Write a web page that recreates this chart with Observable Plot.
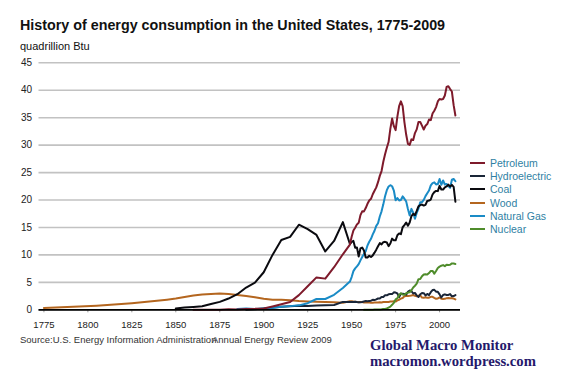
<!DOCTYPE html>
<html><head><meta charset="utf-8">
<script src="https://cdn.jsdelivr.net/npm/d3@7"></script>
<script src="https://cdn.jsdelivr.net/npm/@observablehq/plot@0.6"></script>
<style>
body{margin:0;background:#fff;}
#wrap{position:relative;width:574px;height:390px;overflow:hidden;background:#fff;font-family:"Liberation Sans",Arial,sans-serif;}
.t{position:absolute;white-space:nowrap;line-height:1;}
</style></head><body><div id="wrap"></div>
<script>
const titleText = "History of energy consumption in the United States, 1775-2009";
const unitText = "quadrillion Btu";
const sourceA = "Source:U.S. Energy Information Administration";
const sourceB = "Annual Energy Review 2009";
const mark1 = "Global Macro Monitor";
const mark2 = "macromon.wordpress.com";

const seriesNames = ["Petroleum","Hydroelectric","Coal","Wood","Natural Gas","Nuclear"];
const seriesColors = ["#7e1a2b","#1a2638","#0a0a0f","#b4661f","#1a8bc6","#4f8c2b"];
const drawOrder = ["Wood","Hydroelectric","Nuclear","Natural Gas","Coal","Petroleum"];

const yTicks = [0,5,10,15,20,25,30,35,40,45];
const xTicks = [1775,1800,1825,1850,1875,1900,1925,1950,1975,2000];

// years sampled before 1949 (EIA selected years)
const earlyYears = [1775,1785,1795,1805,1815,1825,1835,1845,1850,1855,1860,1865,1870,1875,1880,1885,1890,1895,1900,1905,1910,1915,1920,1925,1930,1935,1940,1945];
const annualYears = d3.range(1949, 2010);

const woodEarly = [0.35,0.45,0.58,0.74,0.95,1.2,1.5,1.85,2.05,2.35,2.6,2.78,2.9,2.95,2.88,2.7,2.5,2.3,2.02,1.85,1.84,1.74,1.6,1.53,1.46,1.4,1.36,1.27];
const coalEarly = [null,null,null,null,null,null,null,null,0.22,0.42,0.52,0.63,1.05,1.44,2.05,2.84,4.06,4.95,6.84,10.0,12.71,13.29,15.5,14.71,13.64,10.63,12.54,15.97];
const petroleumEarly = [null,null,null,null,null,null,null,null,null,null,0.01,0.02,0.01,0.02,0.1,0.04,0.16,0.17,0.23,0.61,1.01,1.42,2.68,4.28,5.9,5.68,7.76,10.11];
const gasEarly = [null,null,null,null,null,null,null,null,null,null,null,null,null,null,null,0.14,0.26,0.15,0.25,0.37,0.54,0.67,0.81,1.21,1.97,1.97,2.73,3.97];
const hydroEarly = [null,null,null,null,null,null,null,null,null,null,null,null,null,null,null,null,0.02,0.09,0.25,0.39,0.54,0.66,0.74,0.70,0.79,0.83,0.88,1.44];
const nuclearEarly = [];

const coalAnnual = [11.98,12.35,12.55,11.31,11.37,9.72,11.17,11.35,10.82,9.53,
  9.52,9.84,9.62,9.91,10.41,10.96,11.58,12.14,11.91,12.33,
  12.38,12.27,11.60,12.08,12.97,12.66,12.66,13.58,13.92,13.77,
  15.04,15.42,15.91,15.32,15.89,17.07,17.48,17.26,18.01,18.85,
  19.07,19.17,18.99,19.12,19.84,19.91,20.09,21.00,21.45,21.66,
  21.62,22.58,21.91,21.90,22.32,22.47,22.80,22.45,22.75,22.39,
  19.69];
const petroleumAnnual = [11.88,13.32,14.43,14.96,15.56,15.84,17.25,17.94,17.93,18.53,
  19.32,19.92,20.22,21.05,21.70,22.30,23.25,24.40,25.28,26.98,
  28.34,29.52,30.56,32.95,34.84,33.45,32.73,35.18,37.12,37.97,
  37.12,34.20,31.93,30.23,30.05,31.05,30.92,32.20,32.87,34.22,
  34.21,33.55,32.85,33.53,33.84,34.67,34.55,35.76,36.27,36.93,
  37.96,38.40,38.33,38.40,39.05,40.59,40.74,40.21,39.77,37.28,
  35.40];
const gasAnnual = [5.15,5.97,7.05,7.55,7.91,8.33,9.00,9.61,10.19,10.66,
  11.72,12.39,12.93,13.73,14.40,15.29,15.77,16.99,17.94,19.21,
  20.68,21.79,22.47,22.70,22.51,21.73,19.95,20.35,19.93,20.00,
  20.67,20.24,19.75,18.36,17.20,18.39,17.70,16.59,17.64,18.45,
  19.60,19.60,20.03,20.71,21.23,21.73,22.67,23.09,23.22,22.83,
  22.91,23.82,22.77,23.56,22.83,22.91,22.56,22.22,23.70,23.84,
  23.42];
const hydroAnnual = [1.42,1.42,1.42,1.47,1.41,1.36,1.36,1.43,1.52,1.59,
  1.55,1.61,1.66,1.82,1.77,1.89,2.06,2.06,2.35,2.35,
  2.65,2.63,2.82,2.86,2.86,3.18,3.15,2.98,2.33,2.94,
  2.93,2.90,2.76,3.27,3.53,3.39,2.97,3.07,2.63,2.33,
  2.84,3.05,3.02,2.62,2.89,2.68,3.21,3.59,3.64,3.30,
  3.27,2.81,2.24,2.69,2.82,2.69,2.70,2.87,2.45,2.51,
  2.68];
const woodAnnual = [1.55,1.56,1.51,1.47,1.40,1.36,1.42,1.40,1.32,1.33,
  1.35,1.32,1.29,1.30,1.32,1.34,1.34,1.37,1.34,1.42,
  1.44,1.43,1.43,1.50,1.53,1.54,1.50,1.71,1.84,2.04,
  2.15,2.47,2.50,2.51,2.55,2.60,2.68,2.57,2.46,2.58,
  2.62,2.22,2.19,2.28,2.18,2.21,2.37,2.37,2.18,2.00,
  2.06,2.26,2.01,1.98,2.00,2.12,2.14,2.11,2.10,2.04,
  1.89];
const nuclearAnnual = [null,null,null,null,null,null,null,null,
  0.0,0.002,0.002,0.006,0.02,0.026,0.038,0.04,0.043,0.064,
  0.088,0.142,0.154,0.239,0.413,0.584,0.91,1.272,1.9,2.111,
  2.702,3.024,2.776,2.739,3.008,3.131,3.203,3.553,4.076,4.38,
  4.754,5.587,5.602,6.104,6.422,6.479,6.41,6.694,7.075,7.087,
  6.597,7.068,7.61,7.862,8.029,8.145,7.959,8.222,8.161,8.215,
  8.455,8.427,8.356];

const seriesData = {
  "Petroleum": [petroleumEarly, petroleumAnnual],
  "Hydroelectric": [hydroEarly, hydroAnnual],
  "Coal": [coalEarly, coalAnnual],
  "Wood": [woodEarly, woodAnnual],
  "Natural Gas": [gasEarly, gasAnnual],
  "Nuclear": [nuclearEarly, nuclearAnnual]
};

const rows = [];
for (const name of drawOrder) {
  const [early, annual] = seriesData[name];
  earlyYears.forEach((yr, i) => { if (early[i] != null) rows.push({series: name, year: yr, value: early[i]}); });
  annualYears.forEach((yr, i) => { if (annual[i] != null) rows.push({series: name, year: yr, value: annual[i]}); });
}

const wrap = document.getElementById("wrap");

const chart = Plot.plot({
  width: 574, height: 390,
  marginTop: 62.3, marginBottom: 80.7, marginLeft: 38.5, marginRight: 114,
  x: {domain: [1772.2, 2011.9]},
  y: {domain: [0, 45]},
  color: {domain: seriesNames, range: seriesColors},
  style: {fontFamily: "'Liberation Sans', Arial, sans-serif", background: "transparent", overflow: "visible"},
  marks: [
    Plot.gridY(yTicks, {stroke: "#c2c2c2", strokeOpacity: 1, strokeWidth: 1.6}),
    Plot.axisY(yTicks, {tickSize: 0, tickPadding: 7, fontSize: 10, fill: "#222", label: null}),
    Plot.axisX(xTicks, {tickSize: 3, tickPadding: 8.4, fontSize: 9.5, fill: "#222", stroke: "#999", tickFormat: "d", label: null}),
    Plot.line(rows, {x: "year", y: "value", z: "series", stroke: "series", strokeWidth: 2, strokeLinejoin: "round"}),
    Plot.ruleY([0], {stroke: "#000", strokeWidth: 1.8})
  ]
});
chart.style.position = "absolute";
chart.style.left = "0px";
chart.style.top = "0px";
wrap.appendChild(chart);

function addText(txt, left, baseline, fs, opts = {}) {
  const d = document.createElement("div");
  d.className = "t";
  d.textContent = txt;
  const serif = opts.serif;
  const k = serif ? 0.8375 : 0.8465;
  d.style.left = left + "px";
  d.style.top = (baseline - k * fs) + "px";
  d.style.fontSize = fs + "px";
  if (serif) d.style.fontFamily = "'Liberation Serif', 'Times New Roman', serif";
  if (opts.bold) d.style.fontWeight = "bold";
  d.style.color = opts.color || "#000";
  wrap.appendChild(d);
  return d;
}

addText(titleText, 20, 30.1, 14.3, {bold: true, color: "#111"});
addText(unitText, 20, 50.2, 11, {color: "#111"});
addText(sourceA, 20, 343, 9.5, {color: "#333"});
addText(sourceB, 212, 343, 9.5, {color: "#333"});
addText(mark1, 370, 350, 14.7, {serif: true, bold: true, color: "#25196b"});
addText(mark2, 370, 366, 14.7, {serif: true, bold: true, color: "#25196b"});

// legend
seriesNames.forEach((name, i) => {
  const cy = 162.7 + i * 13.3;
  const sw = document.createElement("div");
  sw.style.cssText = `position:absolute;left:470px;top:${cy - 1}px;width:15px;height:2px;background:${seriesColors[i]};`;
  wrap.appendChild(sw);
  addText(name, 490, cy + 3.8, 10.5, {color: "#2f7fa3"});
});
</script></body></html>
